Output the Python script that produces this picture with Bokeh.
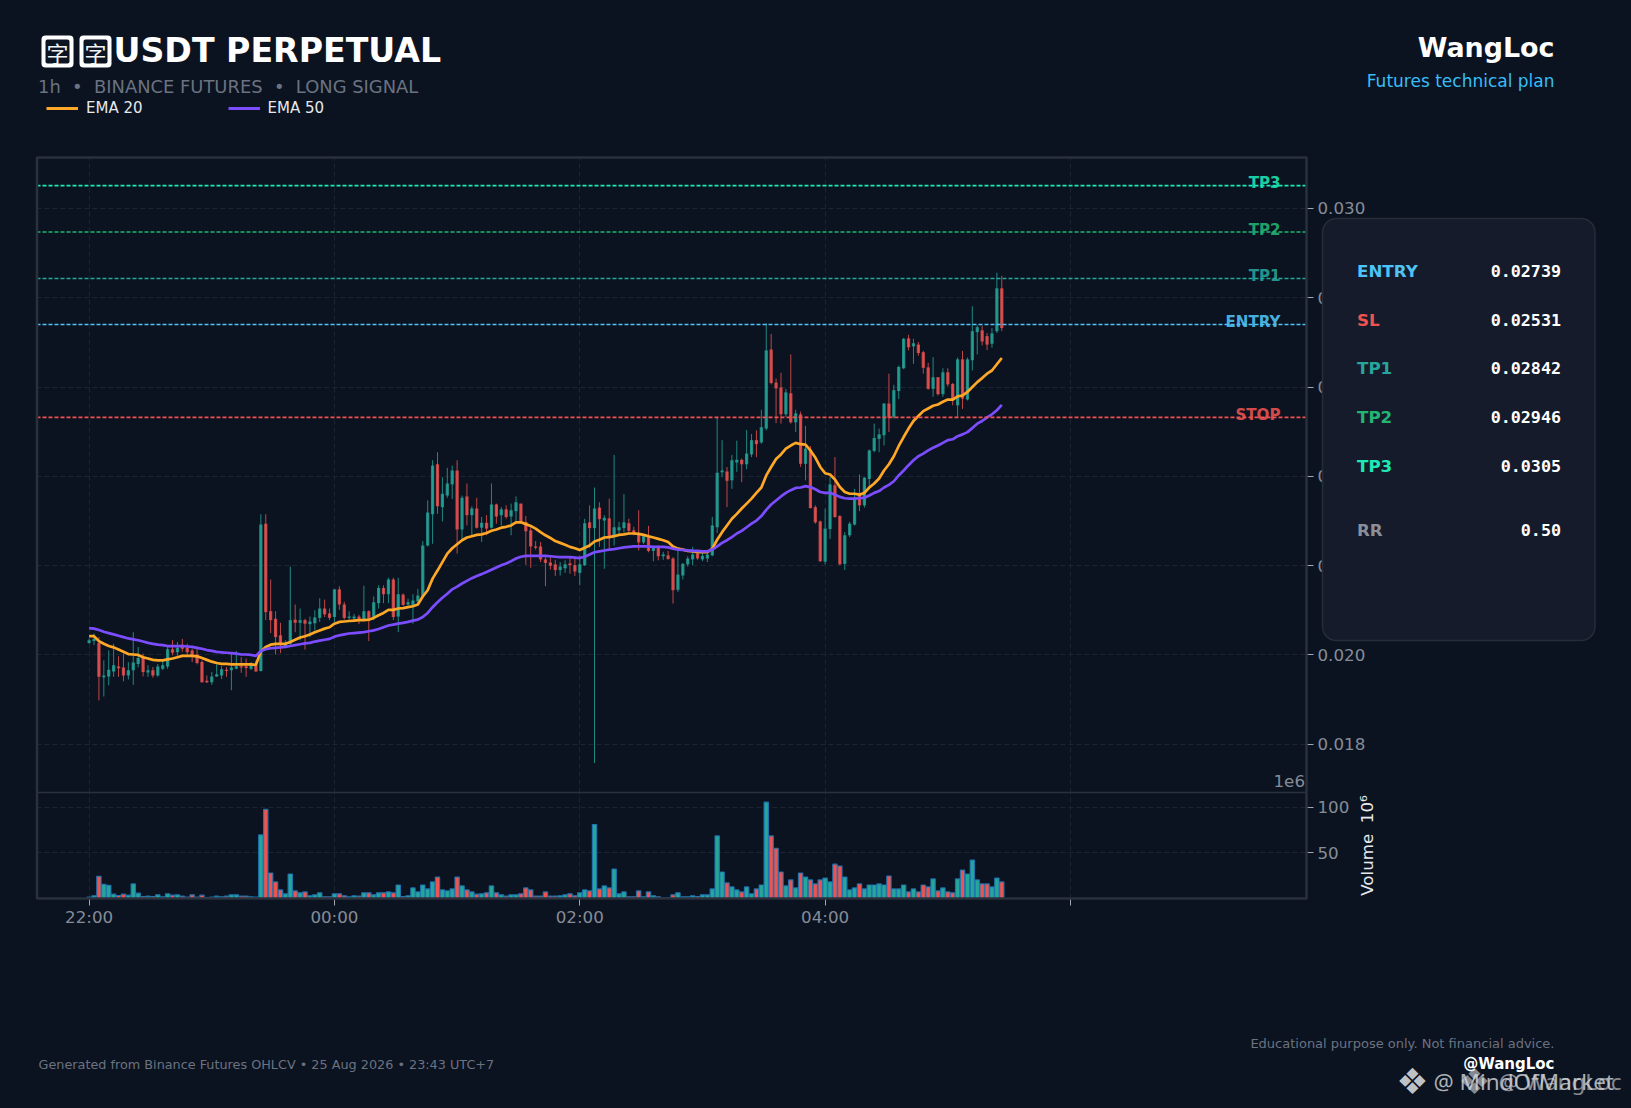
import math
from bokeh.plotting import figure
from bokeh.models import (ColumnDataSource, Range1d, LinearAxis, FixedTicker, Label, BoxAnnotation,
                          Legend, LegendItem, Span)
from bokeh.layouts import column
from bokeh.embed import file_html
from bokeh.resources import INLINE
from bokeh.core.properties import value

# prices in units of 1e-5
open_e5 = [2027,2031,2027,1950,1952,1963,1974,1972,1954,1966,
1980,1993,1961,1966,1954,1969,1974,2013,2006,2023,
2016,2010,2001,1984,1942,1939,1952,1954,1967,1966,
1969,1975,1975,1969,1977,1964,2294,2098,2081,2044,
2020,2025,2079,2072,2078,2069,2071,2083,2104,2093,
2085,2147,2113,2083,2082,2086,2079,2098,2083,2116,
2150,2136,2169,2086,2135,2113,2112,2120,2131,2245,
2315,2427,2331,2357,2382,2413,2281,2355,2313,2328,
2285,2296,2285,2337,2313,2326,2310,2322,2339,2298,
2279,2243,2243,2214,2207,2203,2190,2194,2205,2201,
2184,2201,2297,2284,2330,2301,2306,2268,2279,2284,
2295,2279,2273,2252,2264,2233,2242,2221,2223,2216,
2146,2178,2203,2214,2227,2214,2216,2223,2286,2409,
2411,2391,2431,2437,2427,2449,2481,2476,2507,2684,
2610,2599,2539,2586,2521,2539,2428,2460,2331,2299,
2209,2282,2380,2311,2204,2268,2292,2363,2335,2394,
2457,2484,2492,2563,2533,2591,2642,2709,2691,2695,
2678,2644,2596,2622,2584,2633,2607,2559,2662,2572,
2660,2723,2727,2714,2697,2725,2821]
close_e5 = [2033,2036,1951,1954,1967,1977,1970,1954,1966,1983,
1993,1962,1966,1954,1974,1977,2013,2005,2016,2014,
2006,1999,1982,1939,1939,1952,1957,1968,1964,1972,
1975,1972,1971,1980,1963,2292,2096,2078,2040,2022,
2025,2078,2072,2078,2070,2075,2084,2104,2091,2083,
2147,2113,2083,2086,2086,2078,2098,2083,2118,2150,
2136,2169,2085,2136,2112,2118,2122,2133,2245,2319,
2424,2333,2361,2384,2413,2281,2352,2313,2328,2285,
2296,2283,2337,2310,2326,2309,2324,2342,2298,2277,
2243,2240,2214,2206,2200,2190,2198,2203,2201,2187,
2203,2295,2284,2328,2304,2307,2263,2286,2286,2297,
2278,2272,2252,2266,2233,2242,2221,2225,2215,2145,
2180,2204,2216,2225,2216,2222,2225,2290,2408,2413,
2390,2436,2437,2427,2451,2481,2472,2510,2682,2609,
2597,2539,2588,2521,2541,2428,2462,2329,2297,2210,
2283,2382,2309,2203,2268,2294,2352,2335,2397,2458,
2486,2494,2563,2531,2593,2645,2708,2689,2698,2676,
2643,2596,2622,2584,2633,2606,2570,2662,2574,2662,
2725,2734,2702,2695,2720,2821,2732]
high_e5 = [2037,2048,2040,1988,2010,2025,1997,2003,1984,2051,
2018,2003,1977,1973,1980,1988,2018,2033,2029,2036,
2025,2014,2014,1988,1954,1962,1979,1975,1973,2003,
2009,1995,1992,1984,1988,2315,2315,2169,2098,2072,
2033,2198,2113,2104,2081,2086,2100,2127,2124,2104,
2147,2154,2119,2098,2092,2090,2155,2100,2131,2156,
2156,2173,2173,2173,2138,2126,2136,2148,2255,2346,
2436,2454,2398,2419,2424,2436,2357,2384,2333,2352,
2309,2313,2384,2339,2331,2335,2339,2355,2339,2311,
2288,2255,2253,2219,2221,2213,2208,2212,2221,2216,
2223,2305,2335,2375,2342,2313,2350,2448,2298,2360,
2305,2287,2324,2271,2289,2245,2245,2231,2233,2219,
2234,2206,2221,2242,2234,2230,2234,2309,2531,2481,
2421,2448,2480,2440,2504,2495,2503,2549,2743,2719,
2619,2632,2596,2673,2549,2545,2513,2468,2335,2301,
2328,2398,2443,2313,2275,2298,2372,2404,2398,2460,
2518,2507,2564,2630,2605,2648,2710,2717,2708,2701,
2681,2654,2667,2622,2642,2642,2609,2666,2681,2666,
2781,2738,2737,2721,2732,2856,2849]
low_e5 = [2025,2022,1898,1907,1932,1951,1951,1941,1945,1933,
1972,1952,1951,1949,1951,1966,1969,1999,1998,2007,
1999,1984,1979,1938,1937,1933,1951,1946,1951,1921,
1968,1960,1951,1966,1962,1963,2078,2049,2001,2004,
2018,2022,2051,2033,2012,2040,2055,2074,2085,2078,
2074,2101,2079,2079,2078,2069,2078,2031,2078,2104,
2116,2116,2078,2051,2110,2110,2070,2116,2130,2243,
2249,2316,2299,2352,2349,2227,2255,2290,2268,2283,
2253,2268,2283,2294,2290,2305,2268,2298,2294,2202,
2195,2236,2208,2154,2191,2177,2178,2184,2182,2177,
2156,2199,2240,1758,2242,2193,2238,2245,2268,2274,
2272,2268,2234,2248,2230,2210,2212,2213,2213,2115,
2141,2169,2198,2201,2213,2210,2208,2221,2273,2398,
2331,2372,2410,2387,2416,2443,2443,2473,2503,2606,
2519,2518,2533,2518,2499,2421,2391,2328,2294,2208,
2203,2260,2307,2201,2190,2264,2290,2322,2330,2372,
2454,2454,2469,2499,2529,2573,2640,2682,2652,2670,
2630,2594,2578,2581,2578,2601,2559,2533,2551,2570,
2637,2673,2693,2683,2688,2721,2725]
ema20_e5 = [2042,2042,2031,2025,2020,2017,2012,2007,2002,2001,
2000,1995,1992,1989,1988,1988,1990,1992,1995,1998,
1998,1998,1997,1993,1989,1985,1982,1980,1980,1979,
1979,1979,1979,1979,1978,2008,2018,2023,2025,2025,
2025,2029,2034,2039,2042,2046,2051,2055,2059,2062,
2070,2074,2075,2076,2077,2078,2078,2079,2083,2089,
2094,2101,2101,2104,2105,2107,2109,2113,2131,2145,
2171,2189,2208,2227,2239,2248,2257,2263,2266,2269,
2270,2273,2278,2281,2285,2287,2290,2297,2297,2293,
2289,2283,2275,2268,2262,2255,2251,2247,2242,2239,
2235,2240,2245,2254,2258,2263,2264,2266,2269,2270,
2272,2272,2271,2269,2266,2263,2260,2257,2253,2243,
2238,2236,2233,2232,2230,2230,2230,2238,2258,2275,
2290,2305,2316,2328,2339,2350,2363,2375,2402,2421,
2439,2449,2462,2469,2475,2472,2471,2458,2442,2421,
2407,2404,2393,2376,2365,2361,2361,2359,2363,2375,
2384,2395,2413,2427,2445,2468,2488,2507,2524,2535,
2546,2552,2558,2561,2567,2572,2572,2579,2581,2589,
2600,2611,2620,2630,2637,2651,2665]
ema50_e5 = [2060,2059,2056,2052,2049,2046,2043,2040,2037,2035,
2033,2030,2027,2025,2023,2022,2020,2020,2020,2020,
2019,2018,2016,2014,2011,2009,2007,2006,2005,2004,
2003,2001,2001,2000,1998,2009,2013,2015,2016,2017,
2018,2020,2022,2024,2026,2027,2030,2032,2034,2036,
2041,2044,2046,2048,2049,2050,2051,2053,2055,2058,
2062,2066,2068,2070,2072,2074,2077,2079,2085,2094,
2107,2118,2128,2137,2147,2153,2160,2166,2172,2177,
2181,2186,2191,2196,2201,2205,2210,2216,2220,2222,
2222,2222,2222,2222,2221,2220,2219,2219,2219,2218,
2217,2220,2225,2230,2232,2234,2236,2237,2239,2241,
2242,2243,2243,2243,2243,2242,2242,2242,2241,2238,
2236,2235,2234,2233,2233,2232,2232,2236,2243,2251,
2257,2264,2272,2278,2286,2294,2301,2311,2325,2337,
2346,2355,2363,2369,2374,2375,2378,2376,2371,2365,
2363,2363,2359,2354,2351,2350,2350,2351,2352,2357,
2363,2367,2375,2381,2389,2402,2413,2425,2436,2445,
2451,2458,2464,2469,2475,2481,2483,2490,2494,2499,
2508,2518,2524,2532,2539,2548,2560]
# volume in millions
volume_m = [1.4,2.9,24.3,15.6,14.5,4.7,3.3,4.7,3.6,15.9,
5.8,2.2,2.5,2.2,4.0,1.8,5.1,3.6,4.0,2.5,
1.4,4.0,1.4,3.6,1.1,1.4,2.5,1.8,2.5,4.0,
4.0,2.5,2.5,1.8,1.4,69.6,97.5,27.9,18.1,9.4,
5.1,26.8,8.3,6.2,7.2,2.9,4.0,6.2,1.8,1.8,
5.1,5.1,2.9,1.8,2.9,2.5,6.2,6.2,4.0,6.2,
6.2,7.2,6.2,14.8,2.2,2.9,11.6,7.2,14.8,10.5,
18.1,23.5,9.4,8.3,10.5,23.5,13.8,9.4,7.2,4.7,
5.1,6.2,13.8,6.2,4.0,2.5,4.0,4.0,5.1,11.6,
9.4,2.5,2.5,7.2,2.5,2.5,2.9,4.0,5.1,2.9,
6.2,9.4,8.3,81.0,10.5,13.8,11.6,32.2,5.1,7.2,
1.8,1.8,8.3,1.8,7.2,2.9,1.8,0.7,0.7,4.0,
6.2,1.8,1.8,2.9,2.2,4.0,4.0,10.5,68.5,29.0,
17.0,12.7,9.4,7.2,12.7,5.1,10.5,14.8,105.4,68.5,
55.0,29.0,13.8,20.3,11.6,27.9,23.5,20.3,15.9,20.3,
22.4,18.1,37.6,35.5,23.5,9.4,11.6,15.9,10.5,14.8,
14.8,15.9,14.8,24.6,10.5,10.5,14.8,7.2,10.5,7.2,
14.8,12.7,21.4,8.3,11.6,7.2,6.2,21.4,31.1,26.8,
42.0,20.3,15.9,15.9,12.7,22.4,18.1]

time_ticks = [0, 50, 100, 150, 200]
time_labels = ["22:00", "00:00", "02:00", "04:00", ""]
price_ticks = [0.018, 0.020, 0.022, 0.024, 0.026, 0.028, 0.030]
volume_ticks = [50, 100]

level_names = ["TP3", "TP2", "TP1", "ENTRY", "STOP"]
level_prices = [0.0305, 0.02946, 0.02842, 0.02739, 0.02531]
level_colors = ["#1de9b6", "#22b573", "#26a69a", "#4fc3f7", "#ef5350"]

panel_names = ["ENTRY", "SL", "TP1", "TP2", "TP3", "RR"]
panel_values = ["0.02739", "0.02531", "0.02842", "0.02946", "0.0305", "0.50"]
panel_colors = ["#4fc3f7", "#ef5350", "#26a69a", "#22b573", "#1de9b6", "#8a8f9a"]

BG = "#0b1320"
GRID = "#1d2431"
EDGE = "#2a303c"
MUTED = "#868c98"
TEAL = "#26a69a"
RED = "#ef5350"
SANS = "DejaVu Sans"
NB = "\u00a0"

n = len(close_e5)
xs = list(range(n))
is_red = [c < o for o, c in zip(open_e5, close_e5)]
colors = [RED if r else TEAL for r in is_red]
src = ColumnDataSource(dict(
    x=xs,
    open=[v / 1e5 for v in open_e5], close=[v / 1e5 for v in close_e5],
    high=[v / 1e5 for v in high_e5], low=[v / 1e5 for v in low_e5],
    ema20=[v / 1e5 for v in ema20_e5], ema50=[v / 1e5 for v in ema50_e5],
    vol=volume_m, color=colors,
))

x_range = Range1d(-10.72, 248.1)
W, H1, H2 = 1631, 792, 316


def base(height, border_top, border_bottom, y_range):
    f = figure(width=W, height=height, x_range=x_range, y_range=y_range, output_backend="svg",
               toolbar_location=None, min_border_left=36, min_border_right=325,
               min_border_top=border_top, min_border_bottom=border_bottom,
               background_fill_color=BG, border_fill_color=BG, x_axis_location=None, y_axis_location=None)
    f.outline_line_color = None
    f.xgrid.ticker = FixedTicker(ticks=time_ticks)
    for g in (f.xgrid[0], f.ygrid[0]):
        g.grid_line_color = GRID
        g.grid_line_dash = "5 3"
        g.grid_line_width = 1.1
    return f


def style_axis(ax):
    ax.axis_line_color = None
    ax.major_tick_line_color = "#a2a7b0"
    ax.major_tick_line_width = 1
    ax.major_tick_out = 7
    ax.major_tick_in = 0
    ax.minor_tick_line_color = None
    ax.major_label_text_color = MUTED
    ax.major_label_text_font = SANS
    ax.major_label_text_font_size = "16.7px"


# ---- price pane ----
price = base(H1, 157, 0, Range1d(0.01692, 0.03114))
price.ygrid.ticker = FixedTicker(ticks=price_ticks)
pa = LinearAxis(ticker=FixedTicker(ticks=price_ticks), major_label_overrides={t: f"{t:.3f}" for t in price_ticks})
style_axis(pa)
pa.major_label_standoff = 4
price.add_layout(pa, "right")

price.segment("x", "high", "x", "low", source=src, color="color", line_width=1, line_alpha=0.8)
price.vbar("x", 0.66, "open", "close", source=src, fill_color="color", line_color=None, fill_alpha=0.82)

for name, lvl, col in zip(level_names, level_prices, level_colors):
    price.text([242.8], [lvl + 0.00006], text=[name], text_color=col, text_font=value(SANS), text_font_size="15.1px",
               text_font_style="bold", text_align="right", text_baseline="middle", text_alpha=0.9)
    price.add_layout(Span(location=lvl + 0.00001, dimension="width", line_color=col, line_width=1.6, line_dash="4 2"))

price.line("x", "ema20", source=src, line_color="#ffa726", line_width=2.7)
price.line("x", "ema50", source=src, line_color="#7c4dff", line_width=2.7)

# ---- volume pane ----
vol = base(H2, 0, 210, Range1d(0, 116))
vol.ygrid.ticker = FixedTicker(ticks=volume_ticks)
va = LinearAxis(ticker=FixedTicker(ticks=volume_ticks))
style_axis(va)
va.major_label_standoff = 4
vol.add_layout(va, "right")
xa = LinearAxis(ticker=FixedTicker(ticks=time_ticks),
                major_label_overrides=dict(zip(time_ticks, time_labels)))
style_axis(xa)
xa.major_label_standoff = 1
vol.add_layout(xa, "below")
vol.vbar("x", 0.88, 0, "vol", source=src, fill_color="color", line_color="#1f77b4", line_width=1.2, line_alpha=0.9)

# ---- transparent page-sized layer for header, side panel and footer ----
over = figure(width=W, height=H1 + H2, x_range=Range1d(0, W), y_range=Range1d(H1 + H2, 0), output_backend="svg",
              toolbar_location=None, min_border=0, background_fill_color=None, border_fill_color=None,
              x_axis_location=None, y_axis_location=None,
              styles={"position": "absolute", "left": "0px", "top": "0px"})
over.outline_line_color = None
over.grid.visible = False


def lab(X, Y, text, color, size, align="left", bold=False, font=SANS, alpha=1.0, angle=0.0):
    over.add_layout(Label(x=X, y=Y, text=text, text_color=color, text_font=font, text_font_size=f"{size}px",
                          angle=angle, text_align=align, text_baseline="middle", text_alpha=alpha,
                          text_font_style="bold" if bold else "normal"))


def box(L, T, R, B, fill, line=None, radius=0, lw=1.5):
    over.add_layout(BoxAnnotation(left=L, right=R, top=T, bottom=B, fill_color=fill, fill_alpha=1 if fill else 0,
                                  line_color=line, line_alpha=1 if line else 0, line_width=lw, border_radius=radius))


# pane frames
box(36.5, 157, 1306, 898, None, line=EDGE, lw=2.5)
over.segment([36.5], [792], [1306], [792], line_color=EDGE, line_width=1.5)

# legend (its swatches come from off-page stand-in lines)
l20 = over.line([-50, -40], [-50, -50], line_color="#ffa726", line_width=3)
l50 = over.line([-50, -40], [-50, -50], line_color="#7c4dff", line_width=3)
leg = Legend(items=[LegendItem(label="EMA 20", renderers=[l20]), LegendItem(label="EMA 50", renderers=[l50])],
             location=(46, 1108 - 117), orientation="horizontal", background_fill_alpha=0, border_line_alpha=0,
             margin=0, padding=0, glyph_width=32, glyph_height=14, label_standoff=8, spacing=85,
             label_text_color="#e6e8ec", label_text_font=SANS, label_text_font_size="15px", label_height=14)
over.add_layout(leg, "center")

# header
for L in (41, 79):
    box(L, 35, L + 32, 67, "#ffffff", radius=4)
    box(L + 4, 39, L + 28, 63, "#0e1522", radius=2)
    lab(L + 16, 51, "字", "#f2f3f5", 22, align="center", font="Noto Sans CJK SC")
lab(113, 50, "USDT PERPETUAL", "#ffffff", 33.2, bold=True)
lab(37.5, 85.5, f"1h{NB}{NB}•{NB}{NB}BINANCE FUTURES{NB}{NB}•{NB}{NB}LONG SIGNAL", "#6b7280", 17.9)
lab(1554, 47, "WangLoc", "#ffffff", 26.9, align="right", bold=True)
lab(1554, 80, "Futures technical plan", "#38bdf8", 17, align="right")

# side panel
box(1322, 218, 1594.5, 640, "#151b2a", line="#262c39", radius=14)
panel_y = [270.5, 319.4, 367.2, 416, 465, 529.5]
for name, val, col, y in zip(panel_names, panel_values, panel_colors, panel_y):
    lab(1356.5, y, name, col, 16.7, bold=True)
    lab(1560.5, y, val, "#ffffff", 16.7, align="right", bold=True, font="DejaVu Sans Mono")
lab(1304.5, 780.5, "1e6", MUTED, 16.7, align="right")
lab(1366, 845, f"Volume{NB}{NB}10⁶", "#e6e8ec", 16.7, align="center", angle=math.pi / 2)

# footer
lab(38, 1064, "Generated from Binance Futures OHLCV • 25 Aug 2026 • 23:43 UTC+7", "#6b7280", 12.8)
lab(1554, 1043, "Educational purpose only. Not financial advice.", "#6b7280", 13, align="right")
lab(1554, 1063, "@WangLoc", "#ffffff", 15, align="right", bold=True)
lab(1412, 1081, "❖", "#d8dade", 36, align="center", alpha=0.9)
lab(1474, 1081, "❖", "#d8dade", 36, align="center", alpha=0.6)
lab(1433, 1081, "@ MindOfMarket", "#d8dade", 22.5, font="Noto Sans", alpha=0.8)
lab(1621, 1081, "@ WangLoc", "#d8dade", 22.5, align="right", font="Noto Sans", alpha=0.6)

page = column(price, vol, spacing=0)
html = file_html([page, over], INLINE)
html = html.replace("<head>", f"<head><style>html,body{{background:{BG};}}</style>", 1)
open("out.html", "w").write(html)
